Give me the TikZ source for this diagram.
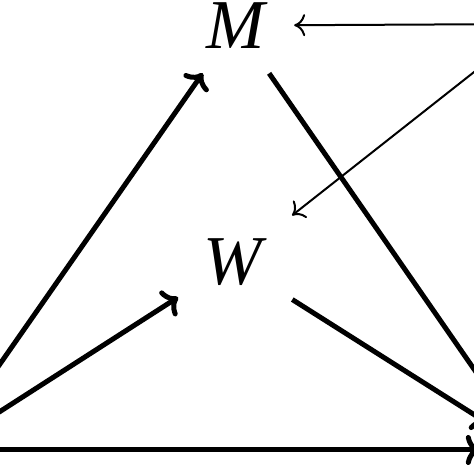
\documentclass[tikz,border=0pt]{standalone}
\usepackage{fontspec}
\setmainfont{Liberation Serif}
\usetikzlibrary{arrows.meta}
\begin{document}
\begin{tikzpicture}[x=1pt,y=1pt,
  var/.style={circle, inner sep=0pt, font=\fontsize{70}{70}\selectfont\itshape},
  hidden/.style={circle, inner sep=0pt, minimum size=100pt},
  thickarrow/.style={line width=5pt, -{Computer Modern Rightarrow[length=14pt,width=30pt]}},
  thinarrow/.style={line width=2pt, -{Computer Modern Rightarrow[length=11pt,width=22pt]}}]
\useasboundingbox (0,0) rectangle (474,474);
\clip (0,0) rectangle (474,474);
\node[var, minimum size=116pt] (M) at (236,448.5) {M};
\node[var, minimum size=130pt] (W) at (233,212) {W};
\node[hidden] (X) at (-60,24) {};
\node[hidden] (Y) at (530,24) {};
\node[hidden] (S) at (535,450) {};
\draw[thickarrow] (X) -- (M);
\draw[thickarrow] (X) -- (W);
\draw[thickarrow] (X) -- (Y);
\draw[thickarrow] (M) -- (Y);
\draw[thickarrow, shorten <=5pt] (W) -- (Y);
\draw[thinarrow] (S) -- (M);
\draw[thinarrow, shorten >=10pt] (S) -- (W);
\end{tikzpicture}
\end{document}
